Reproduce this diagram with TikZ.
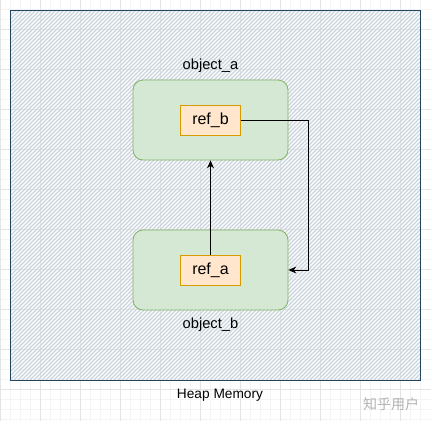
\documentclass[tikz,border=0pt]{standalone}
\usepackage{fontspec}
\setmainfont{Liberation Sans}
\newfontfamily\cjk{Noto Sans CJK SC}
\usetikzlibrary{positioning,arrows.meta}

\definecolor{heapline}{HTML}{23445D}
\definecolor{hatchcol}{HTML}{CBD4DC}
\definecolor{objfill}{HTML}{D5E8D4}
\definecolor{objline}{HTML}{82B366}
\definecolor{reffill}{HTML}{FFE6CC}
\definecolor{refline}{HTML}{D79B00}
\definecolor{gridmajor}{HTML}{E4E4E4}
\definecolor{gridminor}{HTML}{F4F4F4}

\tikzset{
  heapbox/.style={draw=heapline, line width=1pt, minimum width=410pt, minimum height=370pt,
    path picture={
      \foreach \k in {-372,-368,...,412}
        \draw[hatchcol, line width=1.1pt]
          ([xshift=\k pt]path picture bounding box.south west) -- ++(380pt,380pt);
    }},
  objbox/.style={draw=objline, fill=objfill, rounded corners=10pt, line width=0.8pt,
    minimum width=155pt, minimum height=80pt},
  refbox/.style={draw=refline, fill=reffill, line width=0.8pt, minimum width=60pt,
    minimum height=30pt, font=\fontsize{16}{19}\selectfont},
  caption/.style={inner sep=0pt, font=\fontsize{14.7}{17}\selectfont},
  arr/.style={-{Stealth[length=8pt,width=7pt]}, line width=0.9pt, black},
}

\begin{document}
\begin{tikzpicture}[x=1pt,y=-1pt]
  \useasboundingbox (0,0) rectangle (431,421);
  % background grid
  \foreach \g in {10.7,20.7,...,430} \draw[gridminor, line width=0.6pt] (\g,0) -- (\g,421);
  \foreach \g in {-0.5,9.5,...,421} \draw[gridminor, line width=0.6pt] (0,\g) -- (431,\g);
  \foreach \g in {0.7,40.7,...,430} \draw[gridmajor, line width=0.8pt] (\g,0) -- (\g,421);
  \foreach \g in {29.5,69.5,...,421} \draw[gridmajor, line width=0.8pt] (0,\g) -- (431,\g);

  \node[heapbox] (heap) at (215,195) {};
  \node[caption, font=\fontsize{13.7}{16}\selectfont] (heapname) at (220,395) {Heap Memory};

  \node[objbox] (objA) at (210.5,120) {};
  \node[objbox] (objB) at (210.5,270) {};
  \node[refbox] (refB) at (objA.center) {ref\_b};
  \node[refbox] (refA) at (objB.center) {ref\_a};
  \node[caption, above=7pt of objA] (objAname) {object\_a};
  \node[caption, below=7pt of objB] (objBname) {object\_b};

  \draw[arr] (refA) -- (objA);
  \draw[arr] (refB.east) -- ++(68,0) |- (objB.east);

  \node[inner sep=0pt, text=black!30, font=\cjk\fontsize{14}{16}\selectfont] (mark) at (391,404) {知乎用户};
\end{tikzpicture}
\end{document}
